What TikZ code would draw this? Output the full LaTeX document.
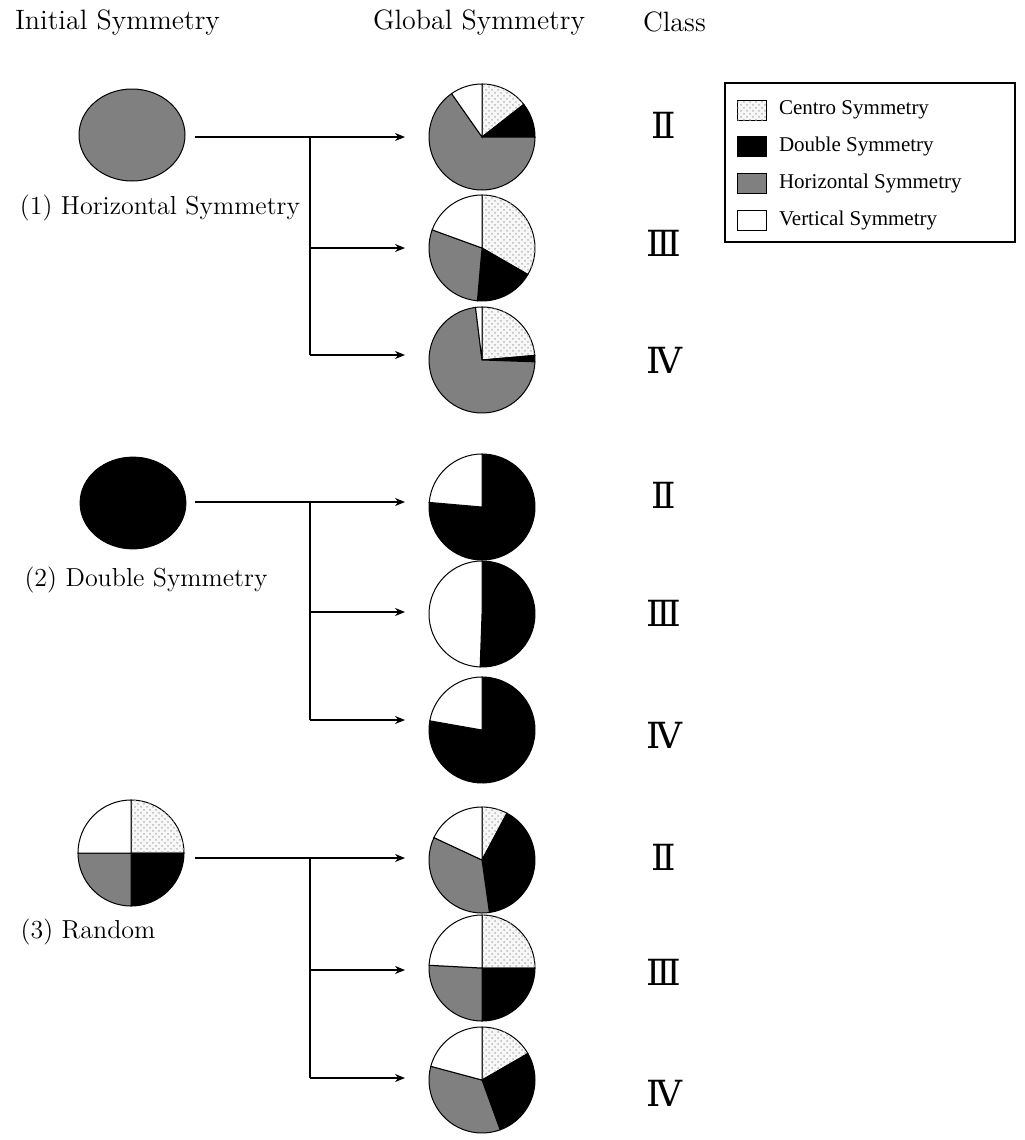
\documentclass[tikz,border=0pt]{standalone}
\usepackage{fontspec}
\newfontfamily\lib{Liberation Serif}
\newfontfamily\numf{DejaVu Serif}
\usetikzlibrary{patterns,arrows.meta,shapes.geometric}
\tikzset{
  cen/.style={fill=gray!6,postaction={pattern=crosshatch dots,pattern color=gray!55}},
  dbl/.style={fill=black},
  hor/.style={fill=gray},
  ver/.style={fill=white},
  hdr/.style={font=\fontsize{14}{16}\selectfont,anchor=west},
  lbl/.style={font=\fontsize{13}{15}\selectfont},
  cls/.style={font=\numf\fontsize{18}{20}\selectfont},
  leg/.style={font=\lib\fontsize{10.5}{12}\selectfont,anchor=west},
  arr/.style={-{Stealth[length=5pt,width=4pt]},line width=0.6pt},
  ln/.style={line width=0.6pt},
  pienode/.style={circle,minimum size=53pt,inner sep=0pt,draw=none}
}
\newcommand\slc[4]{\filldraw[#4,draw=black,line width=0.5pt] (#1.center) -- ++(#2:26.5pt) arc[start angle=#2,end angle=#3,radius=26.5pt] -- cycle;}
\begin{document}
\begin{tikzpicture}[x=0.5pt,y=0.5pt]
\useasboundingbox (0,0) rectangle (1024,-1140);
\node[hdr] (h1) at (8,-22) {Initial Symmetry};
\node[hdr] (h2) at (366,-22) {Global Symmetry};
\node[hdr] (h3) at (636,-22) {Class};
% initial
\node[ellipse,draw,fill=gray,minimum width=53pt,minimum height=46pt,inner sep=0pt,line width=0.5pt] (i1) at (132,-135) {};
\node[ellipse,draw,fill=black,minimum width=53pt,minimum height=46pt,inner sep=0pt] (i2) at (133,-503) {};
\node[pienode] (i3) at (131,-853) {};
\slc{i3}{0}{90}{cen}\slc{i3}{-90}{0}{dbl}\slc{i3}{-180}{-90}{hor}\slc{i3}{-270}{-180}{ver}
\node[lbl] (l1) at (160,-208) {(1) Horizontal Symmetry};
\node[lbl] (l2) at (146,-580) {(2) Double Symmetry};
\node[lbl] (l3) at (88,-932) {(3) Random};
% pies
\foreach \n/\y in {p1/137,p2/248,p3/360,p4/507,p5/614,p6/730,p7/860,p8/968,p9/1080}{\node[pienode] (\n) at (482,-\y) {};}
\slc{p1}{38}{90}{cen}\slc{p1}{0}{38}{dbl}\slc{p1}{-235}{0}{hor}\slc{p1}{90}{125}{ver}
\slc{p2}{-30}{90}{cen}\slc{p2}{-95}{-30}{dbl}\slc{p2}{-200}{-95}{hor}\slc{p2}{-270}{-200}{ver}
\slc{p3}{5}{90}{cen}\slc{p3}{-2}{5}{dbl}\slc{p3}{-263}{-2}{hor}\slc{p3}{90}{97}{ver}
\slc{p4}{-185}{90}{dbl}\slc{p4}{-270}{-185}{ver}
\slc{p5}{-92}{90}{dbl}\slc{p5}{-270}{-92}{ver}
\slc{p6}{-190}{90}{dbl}\slc{p6}{-270}{-190}{ver}
\slc{p7}{62}{90}{cen}\slc{p7}{-82}{62}{dbl}\slc{p7}{-205}{-82}{hor}\slc{p7}{-270}{-205}{ver}
\slc{p8}{0}{90}{cen}\slc{p8}{-90}{0}{dbl}\slc{p8}{-183}{-90}{hor}\slc{p8}{-270}{-183}{ver}
\slc{p9}{30}{90}{cen}\slc{p9}{-70}{30}{dbl}\slc{p9}{-195}{-70}{hor}\slc{p9}{-270}{-195}{ver}
% connectors
\foreach \b/\c/\d/\ya/\yb/\yc in {p1/p2/p3/137/248/355, p4/p5/p6/502/612/720, p7/p8/p9/858/970/1078}{
  \coordinate (s\b) at (195,-\ya);
  \coordinate (j\b) at (310,-\ya);
  \coordinate (e\b) at (405,-\ya);
  \coordinate (j\c) at (310,-\yb);
  \coordinate (e\c) at (405,-\yb);
  \coordinate (j\d) at (310,-\yc);
  \coordinate (e\d) at (405,-\yc);
  \draw[arr] (s\b) -- (e\b);
  \draw[ln] (j\b) -- (j\d);
  \draw[arr] (j\c) -- (e\c);
  \draw[arr] (j\d) -- (e\d);
}
% classes
\foreach \n/\t/\y in {c1/Ⅱ/125,c2/Ⅲ/243,c3/Ⅳ/360,c4/Ⅱ/495,c5/Ⅲ/613,c6/Ⅳ/735,c7/Ⅱ/857,c8/Ⅲ/972,c9/Ⅳ/1093}{\node[cls] (\n) at (664,-\y) {\t};}
% legend
\node[draw,line width=0.6pt,minimum width=145pt,minimum height=79.5pt,inner sep=0pt] (lg) at (870,-162.5) {};
\foreach \n/\s/\t/\y in {g1/cen/Centro Symmetry/110,g2/dbl/Double Symmetry/146,g3/hor/Horizontal Symmetry/183,g4/ver/Vertical Symmetry/220}{
  \node[\s,draw,line width=0.5pt,minimum width=14.5pt,minimum height=10pt,inner sep=0pt] (\n) at (752,-\y) {};
  \node[leg] at (772,-\y) {\t};
}
\end{tikzpicture}
\end{document}
